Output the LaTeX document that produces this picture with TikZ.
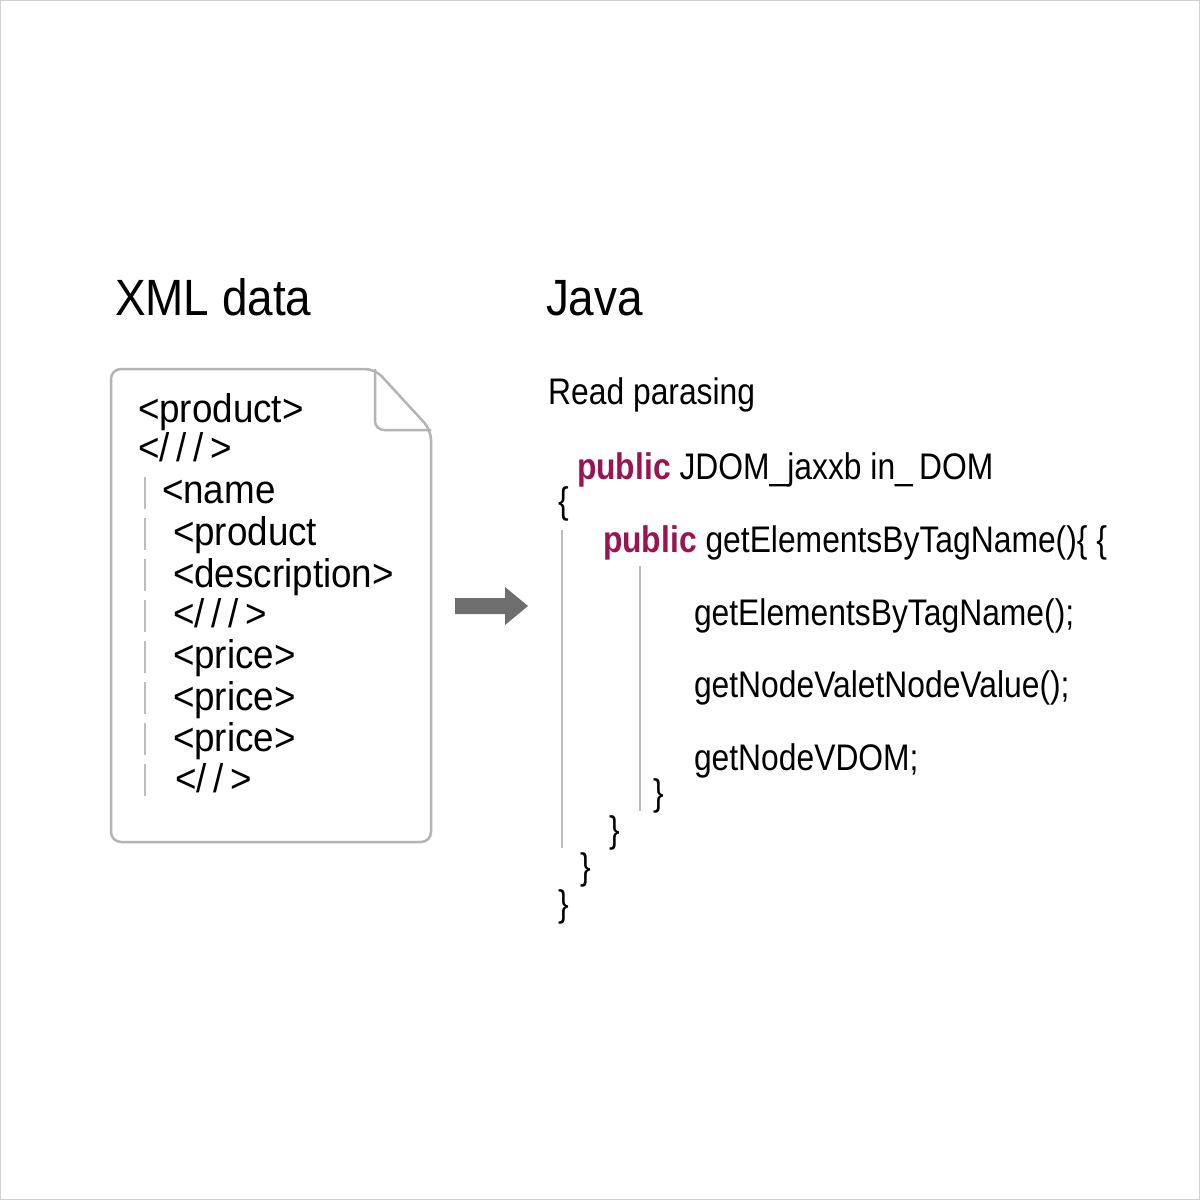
\documentclass[tikz,border=0pt]{standalone}
\usepackage{fontspec}
\setmainfont{Liberation Sans}[FakeStretch=0.86]
\newfontfamily\xmlfont{Liberation Sans}[FakeStretch=0.92]
\newfontfamily\titlefont{Liberation Sans}[FakeStretch=0.9]
\definecolor{kw}{HTML}{9A1452}
\definecolor{boxline}{HTML}{B4B4B4}
\definecolor{guide}{HTML}{BDBDBD}
\definecolor{arrowgray}{HTML}{6E6E6E}
\begin{document}
\begin{tikzpicture}[x=1pt,y=-1pt,
  txt/.style={anchor=base west,inner sep=0pt,outer sep=0pt,font=\fontsize{37}{44}\selectfont,text=black},
  xtxt/.style={anchor=base west,inner sep=0pt,outer sep=0pt,font=\xmlfont\fontsize{40}{44}\selectfont,text=black},
  title/.style={anchor=base west,inner sep=0pt,outer sep=0pt,font=\titlefont\fontsize{51}{60}\selectfont,text=black},
  guideline/.style={draw=guide,line width=1.3pt}]
\useasboundingbox (0,0) rectangle (1200,1200);
\fill[white] (0,0) rectangle (1200,1200);
\draw[draw=black!18,line width=1pt] (0.5,0.5) rectangle (1199.5,1199.5);

% titles
\node[title] (xmlt) at (115,315) {XML data};
\node[title] (javat) at (546,315) {Java};

% document shape
\draw[boxline,line width=2.5pt,rounded corners=10pt,line join=round]
  (111,600) -- (111,369) -- (375,369) -- (431,430) -- (431,842) -- (111,842) -- cycle;
\draw[boxline,line width=2.5pt,rounded corners=9pt]
  (375,369) -- (375,430) -- (431,430);

% xml text
\node[xtxt] (x1) at (138,422) {<product>};
\node[xtxt] (x2) at (138,461) {</\,/\,/\,>};
\node[xtxt] (x3) at (162,503) {<name};
\node[xtxt] (x4) at (173,545) {<product};
\node[xtxt] (x5) at (173,587) {<description>};
\node[xtxt] (x6) at (173,627) {</\,/\,/\,>};
\node[xtxt] (x7) at (173,668) {<price>};
\node[xtxt] (x8) at (173,710) {<price>};
\node[xtxt] (x9) at (173,751) {<price>};
\node[xtxt] (x10) at (175,792) {</\,/\,>};
\draw[guideline,dash pattern=on 32pt off 9pt] (145,477) -- (145,802);

% arrow
\fill[arrowgray] (455,598) -- (505,598) -- (505,587) -- (528,606) -- (505,625) -- (505,614) -- (455,614) -- cycle;

% java
\node[anchor=base west,inner sep=0pt,font=\fontsize{37}{44}\selectfont] (rp) at (548,404) {Read parasing};
\node[txt] (j1) at (577,479) {\textcolor{kw}{\textbf{public}} JDOM\_jaxxb in\_\,DOM};
\node[txt] (j2) at (558,513) {\{};
\node[txt] (j3) at (603,552) {\textcolor{kw}{\textbf{public}} getElementsByTagName()\{ \{};
\node[txt] (j4) at (694,625) {getElementsByTagName();};
\node[txt] (j5) at (694,697) {getNodeValetNodeValue();};
\node[txt] (j6) at (694,770) {getNodeVDOM;};
\node[txt] (j7) at (653,805) {\}};
\node[txt] (j8) at (609,842) {\}};
\node[txt] (j9) at (580,879) {\}};
\node[txt] (j10) at (558,916) {\}};
\draw[guideline] (562,530) -- (562,848);
\draw[guideline] (640,566) -- (640,811);
\end{tikzpicture}
\end{document}
